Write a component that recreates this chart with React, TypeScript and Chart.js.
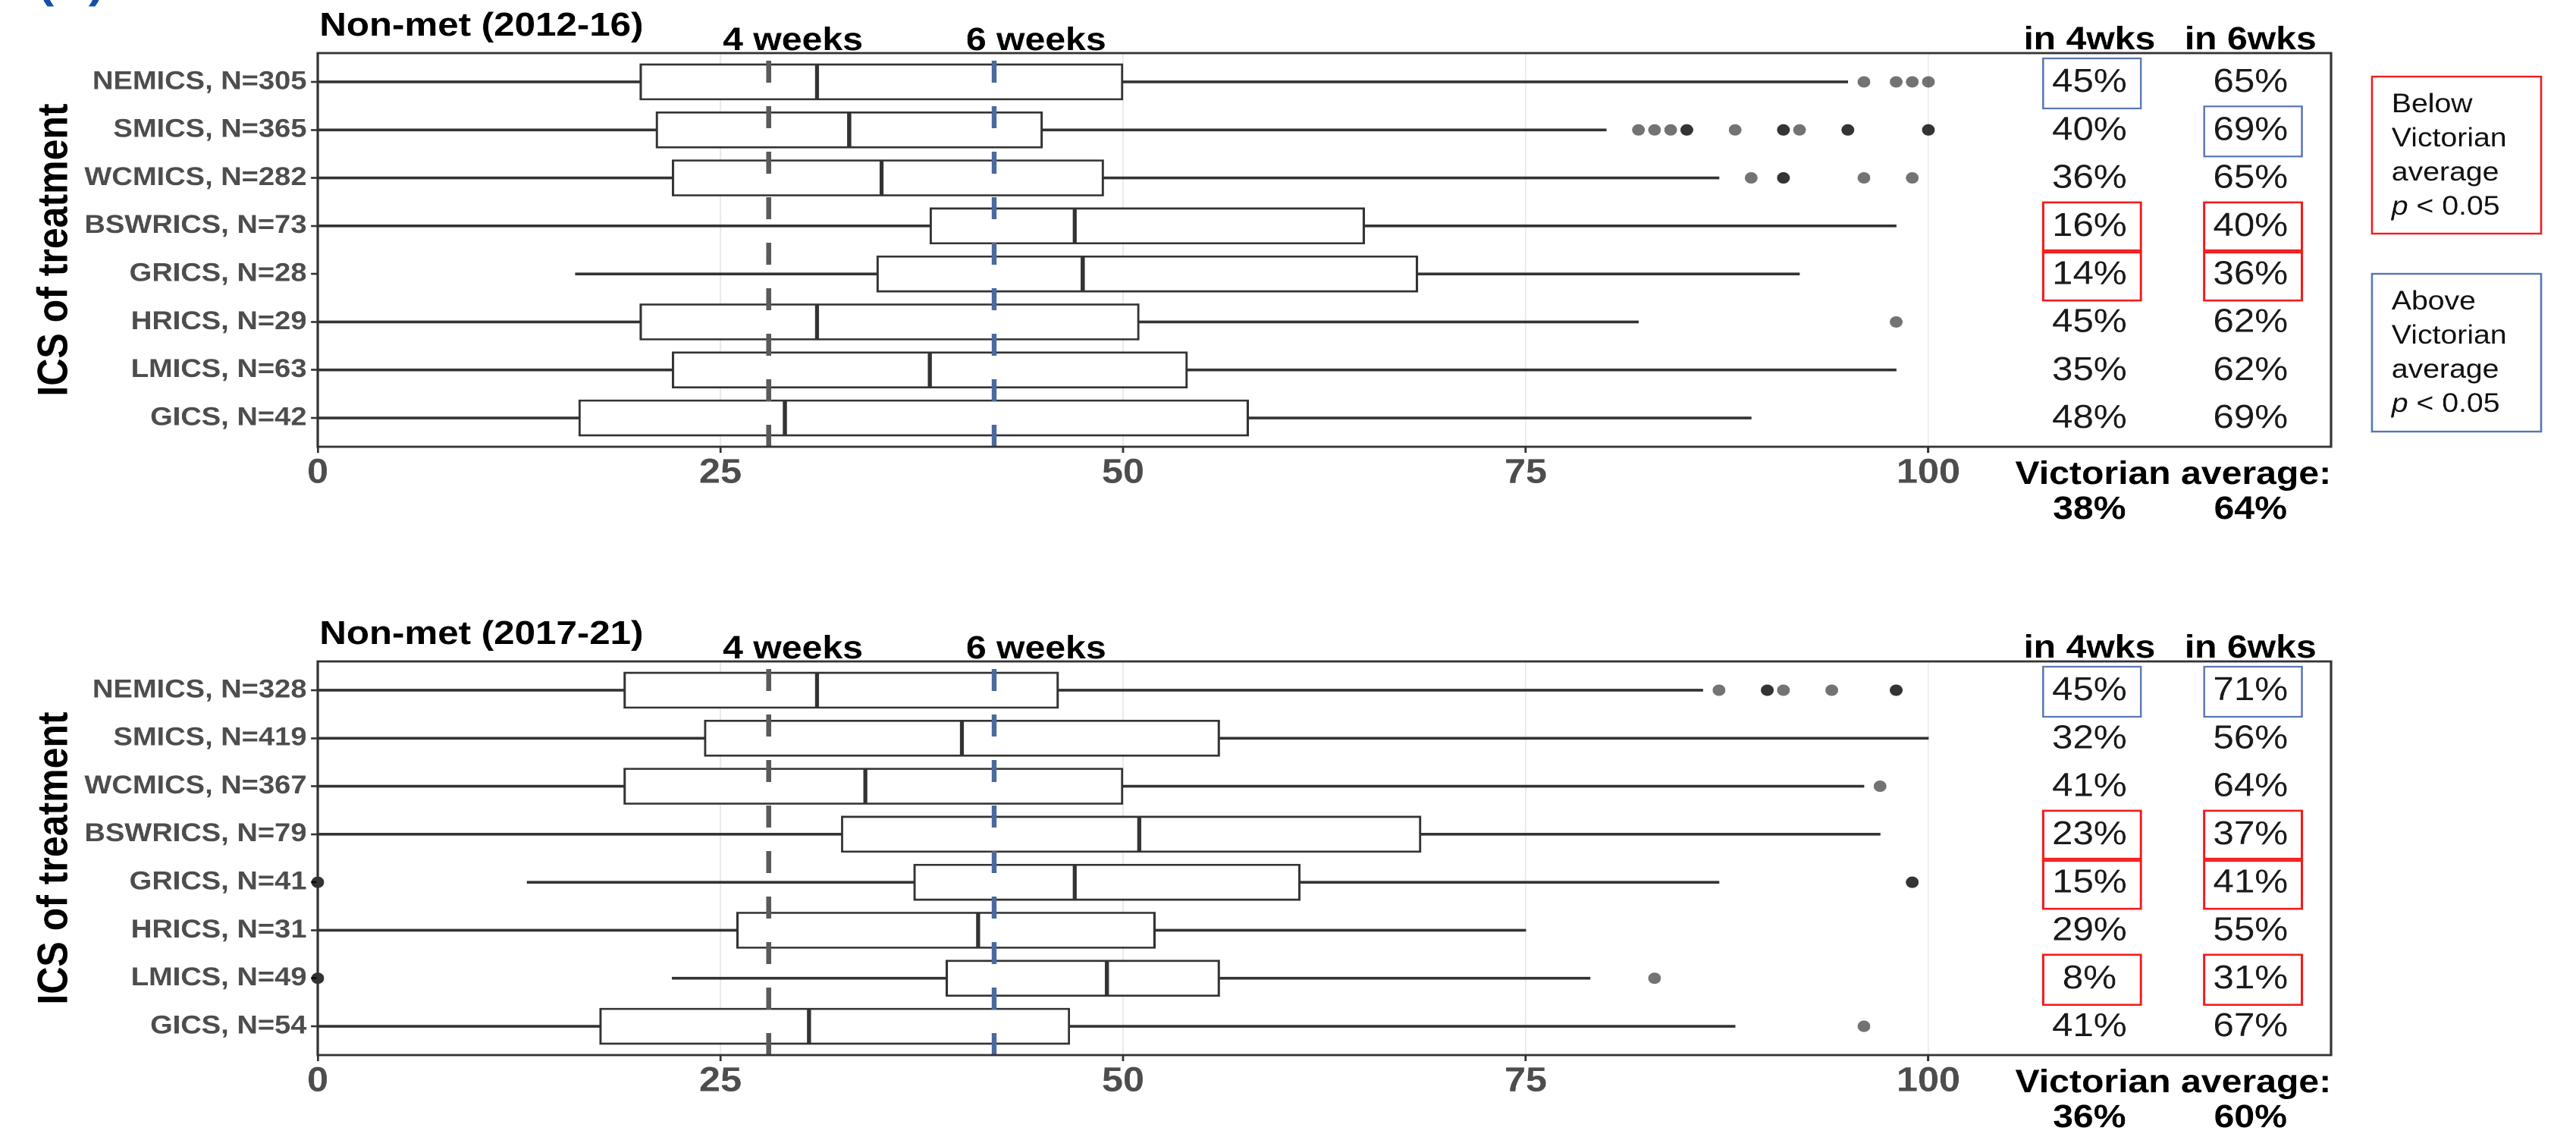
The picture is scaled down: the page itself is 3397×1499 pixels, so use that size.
import { useEffect, useRef } from 'react';
import { Chart, registerables } from 'chart.js';

Chart.register(...registerables);

const FONT = '"Liberation Sans", Arial, Helvetica, sans-serif';
Chart.defaults.font.family = FONT;

// The reference figure is stretched horizontally; the charts are drawn narrower and scaled in x.
const STRETCH = 1.12;
const PAGE_W = 3397;
const PAGE_H = 1499;
const INNER_W = PAGE_W / STRETCH;

// ---------------- shared data ----------------
const categories = ['NEMICS', 'SMICS', 'WCMICS', 'BSWRICS', 'GRICS', 'HRICS', 'LMICS', 'GICS'];
const xTickValues = [0, 25, 50, 75, 100];
const xMax = 125;
const weekLines = [28, 42];
const weekLabels = ['4 weeks', '6 weeks'];
const weekLabelX = [29.5, 44.6];
const columnHeaders = ['in 4wks', 'in 6wks'];
const columnX = [110, 120];
const averageLabelX = 115.2;
const yAxisTitle = 'ICS of treatment';

// ---------------- panel A: 2012-16 ----------------
const aTitle = 'Non-met (2012-16)';
const aN = [305, 365, 282, 73, 28, 29, 63, 42];
const aLow = [0, 0, 0, 0, 16, 0, 0, 0];
const aQ1 = [20, 21, 22, 38, 34.7, 20, 22, 16.2];
const aMedian = [31, 33, 35, 47, 47.5, 31, 38, 29];
const aQ3 = [50, 45, 48.8, 65, 68.3, 51, 54, 57.8];
const aHigh = [95, 80, 87, 98, 92, 82, 98, 89];
const aOutliers = [
  [96, 98, 99, 100],
  [82, 83, 84, 85, 85, 88, 91, 91, 92, 95, 95, 100, 100],
  [89, 91, 91, 96, 99],
  [],
  [],
  [98],
  [],
  [],
];
const aIn4 = [45, 40, 36, 16, 14, 45, 35, 48];
const aIn6 = [65, 69, 65, 40, 36, 62, 62, 69];
const aFlag4 = ['above', '', '', 'below', 'below', '', '', ''];
const aFlag6 = ['', 'above', '', 'below', 'below', '', '', ''];
const aAvg4 = 38;
const aAvg6 = 64;

// ---------------- panel B: 2017-21 ----------------
const bTitle = 'Non-met (2017-21)';
const bN = [328, 419, 367, 79, 41, 31, 49, 54];
const bLow = [0, 0, 0, 0, 13, 0, 22, 0];
const bQ1 = [19, 24, 19, 32.5, 37, 26, 39, 17.5];
const bMedian = [31, 40, 34, 51, 47, 41, 49, 30.5];
const bQ3 = [46, 56, 50, 68.5, 61, 52, 56, 46.7];
const bHigh = [86, 100, 96, 97, 87, 75, 79, 88];
const bOutliers = [
  [87, 90, 90, 91, 94, 98, 98],
  [],
  [97],
  [],
  [0, 0, 99, 99],
  [],
  [0, 0, 83],
  [96],
];
const bIn4 = [45, 32, 41, 23, 15, 29, 8, 41];
const bIn6 = [71, 56, 64, 37, 41, 55, 31, 67];
const bFlag4 = ['above', '', '', 'below', 'below', '', 'below', ''];
const bFlag6 = ['above', '', '', 'below', 'below', '', 'below', ''];
const bAvg4 = 36;
const bAvg6 = 60;

const legendBelow = ['Below', 'Victorian', 'average'];
const legendAbove = ['Above', 'Victorian', 'average'];

type Panel = {
  title: string;
  n: number[];
  low: number[];
  q1: number[];
  median: number[];
  q3: number[];
  high: number[];
  outliers: number[][];
  in4: number[];
  in6: number[];
  flag4: string[];
  flag6: string[];
  avg4: number;
  avg6: number;
};

const panelA: Panel = {
  title: aTitle, n: aN, low: aLow, q1: aQ1, median: aMedian, q3: aQ3, high: aHigh,
  outliers: aOutliers, in4: aIn4, in6: aIn6, flag4: aFlag4, flag6: aFlag6, avg4: aAvg4, avg6: aAvg6,
};
const panelB: Panel = {
  title: bTitle, n: bN, low: bLow, q1: bQ1, median: bMedian, q3: bQ3, high: bHigh,
  outliers: bOutliers, in4: bIn4, in6: bIn6, flag4: bFlag4, flag6: bFlag6, avg4: bAvg4, avg6: bAvg6,
};

const BOX_COLOR = '#333333';
const RED = '#f21d1d';
const BLUE = '#5877b2';

function drawLegendBox(ctx: CanvasRenderingContext2D, x: number, y: number, w: number, h: number, color: string, lines: string[]) {
  ctx.save();
  ctx.strokeStyle = color;
  ctx.lineWidth = 2.4;
  ctx.strokeRect(x, y, w, h);
  ctx.fillStyle = '#111';
  ctx.textAlign = 'left';
  ctx.textBaseline = 'alphabetic';
  ctx.font = `35px ${FONT}`;
  const tx = x + 23;
  lines.forEach((t, i) => ctx.fillText(t, tx, y + 47 + i * 45));
  const py = y + 47 + 3 * 45;
  ctx.font = `italic 35px ${FONT}`;
  ctx.fillText('p', tx, py);
  const pw = ctx.measureText('p').width;
  ctx.font = `35px ${FONT}`;
  ctx.fillText(' < 0.05', tx + pw, py);
  ctx.restore();
}

function makeConfig(p: Panel, canvasH: number, frameTop: number, frameBottom: number, withLegend: boolean): any {
  const yMin = 0.4;
  const yMax = categories.length + 0.6;
  const rows = categories.map((_, i) => i + 1);
  const whiskers = rows.map((r, i) => ({ x: [p.low[i], p.high[i]], y: r }));
  const lowerBox = rows.map((r, i) => ({ x: [p.q1[i], p.median[i]], y: r }));
  const upperBox = rows.map((r, i) => ({ x: [p.median[i], p.q3[i]], y: r }));
  const outliers = p.outliers.flatMap((vals, i) => vals.map((v) => ({ x: v, y: i + 1 })));
  const weekColors = ['#5a5a5a', '#4a6a9f'];

  const annotations = {
    id: 'annotations',
    afterDraw(chart: any) {
      const { ctx, chartArea: a, scales } = chart;
      const xs = scales.x;
      const ys = scales.y;
      ctx.save();
      // panel frame
      ctx.strokeStyle = BOX_COLOR;
      ctx.lineWidth = 2.8;
      ctx.strokeRect(a.left, a.top, a.right - a.left, a.bottom - a.top);

      // panel title
      ctx.fillStyle = '#000';
      ctx.textBaseline = 'alphabetic';
      ctx.textAlign = 'left';
      ctx.font = `bold 44px ${FONT}`;
      ctx.fillText(p.title, a.left + 2, a.top - 23);

      // week labels and column headers
      ctx.textAlign = 'center';
      ctx.font = `bold 43px ${FONT}`;
      weekLabels.forEach((t, i) => ctx.fillText(t, xs.getPixelForValue(weekLabelX[i]), a.top - 4));
      columnHeaders.forEach((t, i) => ctx.fillText(t, xs.getPixelForValue(columnX[i]), a.top - 5));

      // percentages
      ctx.font = `44px ${FONT}`;
      ctx.fillStyle = '#1a1a1a';
      ctx.textBaseline = 'middle';
      const cols = [p.in4, p.in6];
      const flags = [p.flag4, p.flag6];
      cols.forEach((vals, c) => {
        vals.forEach((v, i) => {
          const cx = xs.getPixelForValue(columnX[c]);
          const cy = ys.getPixelForValue(i + 1);
          ctx.fillText(`${v}%`, cx, cy + 1);
          const f = flags[c][i];
          if (f) {
            ctx.strokeStyle = f === 'below' ? RED : BLUE;
            ctx.lineWidth = f === 'below' ? 2.6 : 2.2;
            const bw = 115;
            const bh = 66;
            ctx.strokeRect(cx + 3 - bw / 2, cy + 2 - bh / 2, bw, bh);
          }
        });
      });

      // Victorian average
      ctx.fillStyle = '#000';
      ctx.textBaseline = 'alphabetic';
      ctx.font = `bold 43px ${FONT}`;
      ctx.fillText('Victorian average:', xs.getPixelForValue(averageLabelX), a.bottom + 49);
      ctx.fillText(`${p.avg4}%`, xs.getPixelForValue(columnX[0]), a.bottom + 95);
      ctx.fillText(`${p.avg6}%`, xs.getPixelForValue(columnX[1]), a.bottom + 95);

      if (withLegend) {
        drawLegendBox(ctx, 3128 / STRETCH, 101, 223 / STRETCH, 207, RED, legendBelow);
        drawLegendBox(ctx, 3128 / STRETCH, 361, 223 / STRETCH, 208, BLUE, legendAbove);
        // cut-off panel letter at the very top
        ctx.fillStyle = '#1450aa';
        ctx.textAlign = 'left';
        ctx.font = `bold 56px ${FONT}`;
        ctx.fillText('(A)', 45, -3);
      }
      ctx.restore();
    },
  };

  return {
    type: 'bar',
    data: {
      datasets: [
        {
          type: 'scatter',
          label: 'outliers',
          data: outliers,
          backgroundColor: 'rgba(0,0,0,0.55)',
          borderWidth: 0,
          pointRadius: 7.5,
          clip: false,
          order: 0,
        },
        ...weekLines.map((w, i) => ({
          type: 'line',
          label: weekLabels[i],
          data: [{ x: w, y: yMax }, { x: w, y: yMin }],
          borderColor: weekColors[i],
          borderWidth: 5.8,
          borderDash: [29, 31],
          pointRadius: 0,
          fill: false,
          order: 1,
        })),
        {
          label: 'lower box',
          data: lowerBox,
          backgroundColor: '#ffffff',
          borderColor: BOX_COLOR,
          borderWidth: 2.7,
          borderSkipped: false,
          barThickness: 48,
          grouped: false,
          order: 2,
        },
        {
          label: 'upper box',
          data: upperBox,
          backgroundColor: '#ffffff',
          borderColor: BOX_COLOR,
          borderWidth: 2.7,
          borderSkipped: false,
          barThickness: 48,
          grouped: false,
          order: 2,
        },
        {
          label: 'whiskers',
          data: whiskers,
          backgroundColor: BOX_COLOR,
          borderWidth: 0,
          barThickness: 3,
          grouped: false,
          order: 3,
        },
      ],
    },
    options: {
      indexAxis: 'y',
      responsive: true,
      maintainAspectRatio: false,
      animation: false,
      devicePixelRatio: 2,
      events: [],
      layout: { padding: { left: 0, right: INNER_W - 3074 / STRETCH, top: frameTop, bottom: 0 } },
      plugins: { legend: { display: false }, tooltip: { enabled: false }, title: { display: false } },
      scales: {
        x: {
          type: 'linear',
          min: 0,
          max: xMax,
          offset: false,
          afterBuildTicks: (axis: any) => {
            axis.ticks = xTickValues.map((v) => ({ value: v }));
          },
          afterFit: (axis: any) => {
            axis.height = canvasH - frameBottom;
          },
          ticks: {
            autoSkip: false,
            maxRotation: 0,
            padding: 0,
            color: '#4d4d4d',
            font: { size: 45, weight: 'bold', family: FONT },
            callback: (v: any) => String(v),
          },
          grid: {
            offset: false,
            color: '#ebebeb',
            lineWidth: 1.6,
            drawTicks: true,
            tickLength: 8,
            tickColor: BOX_COLOR,
            tickWidth: 2.6,
          },
          border: { display: false },
        },
        y: {
          type: 'linear',
          reverse: true,
          min: yMin,
          max: yMax,
          offset: false,
          afterBuildTicks: (axis: any) => {
            axis.ticks = rows.map((v) => ({ value: v }));
          },
          afterFit: (axis: any) => {
            axis.width = 419 / STRETCH;
          },
          ticks: {
            autoSkip: false,
            padding: 5,
            color: '#4d4d4d',
            font: { size: 34, weight: 'bold', family: FONT },
            callback: (v: any) => {
              const i = Math.round(v) - 1;
              return `${categories[i]}, N=${p.n[i]}`;
            },
          },
          grid: {
            offset: false,
            drawOnChartArea: false,
            drawTicks: true,
            tickLength: 8,
            tickColor: BOX_COLOR,
            tickWidth: 2.6,
          },
          border: { display: false },
          title: {
            display: true,
            text: yAxisTitle,
            color: '#000',
            font: { size: 50, weight: 'bold', family: FONT },
            padding: { top: 35, bottom: 0 },
          },
        },
      },
    },
    plugins: [annotations],
  };
}

function BoxPanel(props: { top: number; height: number; frameTop: number; frameBottom: number; panel: Panel; legend: boolean }) {
  const ref = useRef<HTMLCanvasElement>(null);
  useEffect(() => {
    if (!ref.current) return;
    const chart = new Chart(ref.current, makeConfig(props.panel, props.height, props.frameTop, props.frameBottom, props.legend));
    return () => chart.destroy();
  }, []);
  return (
    <div
      style={{
        position: 'absolute',
        left: 0,
        top: props.top,
        width: INNER_W,
        height: props.height,
        transform: `scaleX(${STRETCH})`,
        transformOrigin: '0 0',
      }}
    >
      <canvas ref={ref} />
    </div>
  );
}

export default function App() {
  return (
    <div
      style={{
        position: 'fixed',
        left: 0,
        top: 0,
        width: PAGE_W,
        height: PAGE_H,
        background: '#ffffff',
        overflow: 'hidden',
      }}
    >
      <BoxPanel top={0} height={750} frameTop={70} frameBottom={589} panel={panelA} legend={true} />
      <BoxPanel top={750} height={749} frameTop={122} frameBottom={641} panel={panelB} legend={false} />
    </div>
  );
}
